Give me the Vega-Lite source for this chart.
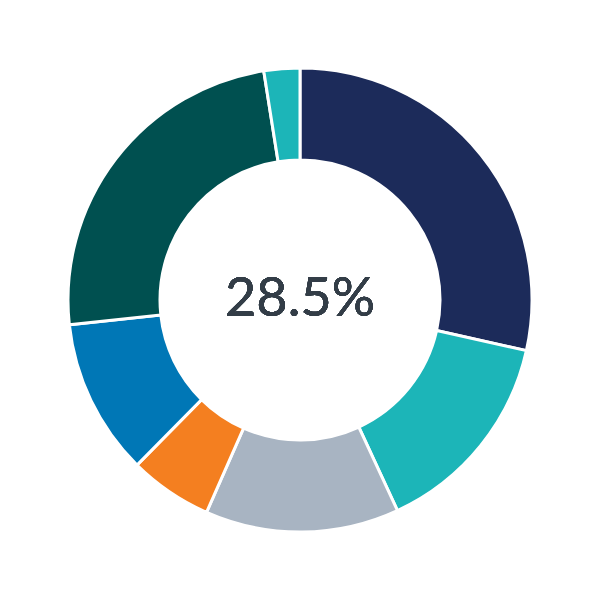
{
  "$schema": "https://vega.github.io/schema/vega-lite/v6.json",
  "width": 600,
  "height": 600,
  "autosize": {"type": "fit", "contains": "padding"},
  "padding": 0,
  "background": "white",
  "view": {"stroke": null},
  "data": {
    "values": [
      {"segment": "A", "rank": 1, "share": 28.5},
      {"segment": "B", "rank": 2, "share": 14.6},
      {"segment": "C", "rank": 3, "share": 13.5},
      {"segment": "D", "rank": 4, "share": 5.8},
      {"segment": "E", "rank": 5, "share": 10.9},
      {"segment": "F", "rank": 6, "share": 24.2},
      {"segment": "G", "rank": 7, "share": 2.5}
    ]
  },
  "layer": [
    {
      "mark": {
        "type": "arc",
        "outerRadius": 232,
        "innerRadius": 140,
        "stroke": "white",
        "strokeWidth": 3
      },
      "encoding": {
        "theta": {"field": "share", "type": "quantitative", "stack": true},
        "order": {"field": "rank", "type": "quantitative"},
        "color": {
          "field": "segment",
          "type": "nominal",
          "legend": null,
          "scale": {
            "domain": ["A", "B", "C", "D", "E", "F", "G"],
            "range": ["#1c2b5a", "#1cb5b8", "#a8b4c2", "#f47f20", "#0077b6", "#005050", "#1cb5b8"]
          }
        }
      }
    },
    {
      "mark": {
        "type": "text",
        "text": "28.5%",
        "font": "Lato",
        "fontSize": 54,
        "color": "#333d47",
        "align": "center",
        "baseline": "middle"
      },
      "encoding": {}
    }
  ]
}
